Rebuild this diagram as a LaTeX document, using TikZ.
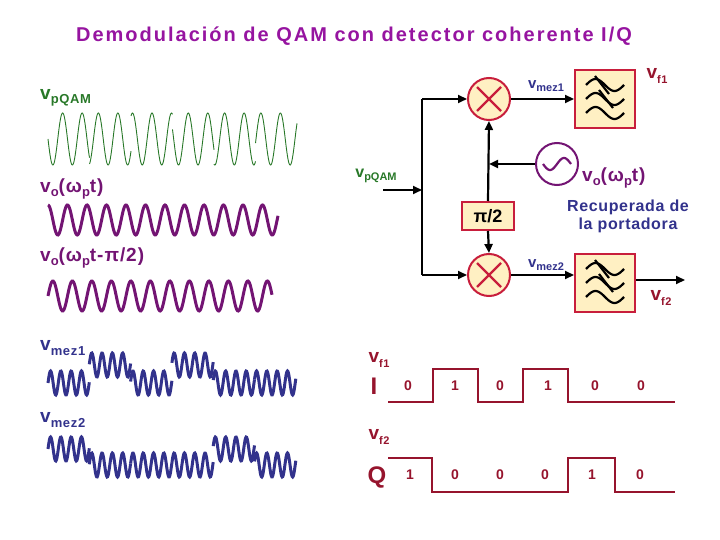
\documentclass[tikz,border=0pt]{standalone}
\usepackage{fontspec}
\setmainfont{Liberation Sans}
\usetikzlibrary{arrows.meta}
\definecolor{ttl}{RGB}{150,20,160}
\definecolor{grn}{RGB}{40,120,40}
\definecolor{prp}{RGB}{115,20,115}
\definecolor{nav}{RGB}{50,50,140}
\definecolor{crim}{RGB}{200,30,60}
\definecolor{dred}{RGB}{150,20,45}
\definecolor{ylw}{RGB}{255,240,195}
\newcommand{\sbs}[1]{\raisebox{-0.45ex}{\fontsize{13}{14}\selectfont #1}}
\newcommand{\sbm}[1]{\raisebox{-0.45ex}{\fontsize{11}{12}\selectfont #1}}
\tikzset{
  lbl/.style={font=\bfseries\fontsize{19}{20}\selectfont\addfontfeatures{LetterSpace=5}, inner sep=0pt},
  mixer/.style={circle, draw=crim, fill=ylw, line width=2pt, minimum size=42pt, inner sep=0pt},
  filt/.style={draw=crim, fill=ylw, line width=2pt, minimum width=60pt, minimum height=58pt, inner sep=0pt},
  pbox/.style={draw=crim, fill=ylw, line width=2pt, minimum width=52pt, minimum height=28pt, inner sep=0pt, font=\bfseries\fontsize{18}{19}\selectfont},
  osc/.style={circle, draw=prp, fill=white, line width=2pt, minimum size=42pt, inner sep=0pt},
  wire/.style={line width=2.2pt, -{Triangle[length=9pt,width=8pt]}},
  bit/.style={line width=2.5pt, dred},
  bitn/.style={inner sep=0pt, dred, font=\bfseries\fontsize{14}{15}\selectfont},
}
\begin{document}
\begin{tikzpicture}[x=1pt,y=-1pt]
\useasboundingbox (0,0) rectangle (720,540);
\node[inner sep=0pt, ttl, font=\bfseries\fontsize{20}{22}\selectfont\addfontfeatures{LetterSpace=10}] (title) at (354,36) {Demodulación de QAM con detector coherente I/Q};

% block diagram
\node[mixer] (m1) at (489,99) {};
\node[mixer] (m2) at (489,275) {};
\foreach \m in {m1,m2}{
  \draw[crim, line width=2.2pt] ([shift={(-12,-12)}]\m.center) -- ([shift={(12,12)}]\m.center);
  \draw[crim, line width=2.2pt] ([shift={(-12,12)}]\m.center) -- ([shift={(12,-12)}]\m.center);
}
\node[filt] (f1) at (605,99) {};
\node[filt] (f2) at (605,283) {};
\foreach \f in {f1,f2}{
  \begin{scope}[shift={(\f.center)}]
   \foreach \yy in {-14,0,14}
     \draw[line width=2.2pt] plot[domain=-19:19, samples=40] (\x,{\yy+6*sin(360*\x/38)});
   \draw[line width=2.2pt] (-10,-23) -- (4,-5);
   \draw[line width=2.2pt] (-6,-9) -- (8,9);
  \end{scope}
}
\node[osc] (os) at (557,164) {};
\draw[line width=2.2pt, prp] plot[domain=-14:14, samples=40] ([shift={(os.center)}]\x,{-6*sin(360*\x/28)});
\node[pbox] (ph) at (488,216) {π/2};

\coordinate (in) at (383,190);
\coordinate (bus) at (422,190);
\coordinate (bt) at (422,99);
\coordinate (bb) at (422,275);
\coordinate (vj) at (489,164);
\coordinate (o1) at (685,99);
\coordinate (o2) at (685,280);
\draw[wire] (in) -- (bus);
\draw[line width=2.2pt] (bt) -- (bb);
\draw[wire] (bt) -- (m1.west);
\draw[wire] (bb) -- (m2.west);
\draw[wire] (os.west) -- (vj);
\draw[wire] (ph.north) -- (m1.south);
\draw[wire] (ph.south) -- (m2.north);
\draw[wire] (m1.east) -- (f1.west);
\draw[wire] (m2.east) -- (f2.west |- m2.east);
\draw[wire] (f2.east |- o2) -- (o2);

\node[lbl, nav, font=\bfseries\fontsize{15}{16}\selectfont] (lm1) at (546,86) {v\sbm{mez1}};
\node[lbl, nav, font=\bfseries\fontsize{15}{16}\selectfont] (lm2) at (546,265) {v\sbm{mez2}};
\node[lbl, dred] (lf1) at (657,76) {v\sbm{f1}};
\node[lbl, dred] (lf2) at (661,298) {v\sbm{f2}};
\node[lbl, grn, font=\bfseries\fontsize{16}{17}\selectfont] (lin) at (376,176) {v\sbm{pQAM}};
\node[lbl, prp, anchor=west] (lvo) at (582,178) {v\sbs{o}(ω\sbs{p}t)};
\node[lbl, nav, align=center, font=\bfseries\fontsize{16}{18}\selectfont\addfontfeatures{LetterSpace=4}] (rec) at (628,216) {Recuperada de\\la portadora};

% left waveforms
\node[lbl, grn, anchor=west] (lq) at (40,98) {v\sbs{pQAM}};
\foreach \ph [count=\i from 0] in {0,60,150,200,250,300}{
  \draw[grn, line width=0.9pt] plot[domain={48+41.5*\i}:{48+41.5*(\i+1)}, samples=80] (\x,{139+26*sin((\x-48)/19.5*360+\ph)});
}
\node[lbl, prp, anchor=west] (lo1) at (40,189) {v\sbs{o}(ω\sbs{p}t)};
\draw[prp, line width=3pt] plot[domain=48:278, samples=300] (\x,{220-15*cos((\x-48)/19.5*360)});
\node[lbl, prp, anchor=west] (lo2) at (40,258) {v\sbs{o}(ω\sbs{p}t-π/2)};
\draw[prp, line width=3pt] plot[domain=48:272, samples=300] (\x,{296-15*sin((\x-48)/19.5*360)});

\node[lbl, nav, anchor=west] (lz1) at (40,348) {v\sbs{mez1}};
\foreach \o [count=\i from 0] in {383,365,383,365,383,383}{
  \draw[nav, line width=3pt] plot[domain={48+41.3*\i}:{48+41.3*(\i+1)}, samples=80] (\x,{\o-12*sin((\x-48)/10.3*360)});
}
\node[lbl, nav, anchor=west] (lz2) at (40,420) {v\sbs{mez2}};
\foreach \o [count=\i from 0] in {449,465,465,465,449,465}{
  \draw[nav, line width=3pt] plot[domain={48+41.3*\i}:{48+41.3*(\i+1)}, samples=80] (\x,{\o-12*sin((\x-48)/10.3*360)});
}

% digital outputs
\node[lbl, dred] (vf1) at (379,360) {v\sbm{f1}};
\node[lbl, dred, font=\bfseries\fontsize{24}{26}\selectfont] (iI) at (374,386) {I};
\draw[bit] (388,402) -- (433,402) -- (433,369) -- (478,369) -- (478,402) -- (523,402) -- (523,369) -- (568,369) -- (568,402) -- (675,402);
\foreach \b/\xx in {0/408,1/455,0/500,1/548,0/595,0/641}
  \node[bitn] at (\xx,386) {\b};
\node[lbl, dred] (vf2) at (379,437) {v\sbm{f2}};
\node[lbl, dred, font=\bfseries\fontsize{24}{26}\selectfont] (qQ) at (377,477) {Q};
\draw[bit] (388,458) -- (432,458) -- (432,492) -- (568,492) -- (568,458) -- (615,458) -- (615,492) -- (675,492);
\foreach \b/\xx in {1/410,0/455,0/500,0/545,1/592,0/640}
  \node[bitn] at (\xx,475) {\b};
\end{tikzpicture}
\end{document}
